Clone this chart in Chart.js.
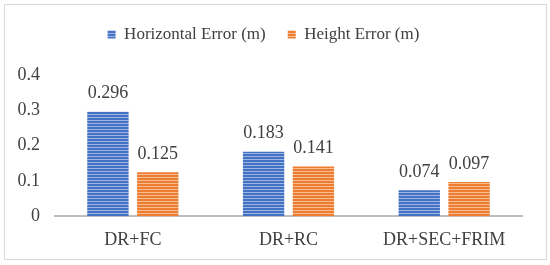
<!DOCTYPE html>
<html>
<head>
<meta charset="utf-8">
<script src="https://cdn.jsdelivr.net/npm/chart.js@4"></script>
<style>
    body { margin: 0; background: #fff; }
    #wrap { position: relative; width: 550px; height: 265px; }
    #frame { position: absolute; left: 4px; top: 4px; width: 541px; height: 254px; border: 1px solid #d9d9d9; }
    canvas { position: absolute; left: 0; top: 0; }
</style>
</head>
<body>
<div id="wrap">
    <div id="frame"></div>
    <canvas id="errChart" width="550" height="265"></canvas>
</div>
<script>
// Chart data
const methods = ['DR+FC', 'DR+RC', 'DR+SEC+FRIM'];
const horizontalErr = [0.296, 0.183, 0.074];
const heightErr = [0.125, 0.141, 0.097];
const yTicks = [0, 0.1, 0.2, 0.3, 0.4];

const serif = '"Liberation Serif", "Times New Roman", serif';
const textColor = '#404040';

// striped fill like the Excel pattern
function stripes(base, light) {
    const c = document.createElement('canvas');
    c.width = 4;
    c.height = 3;
    const g = c.getContext('2d');
    g.fillStyle = base;
    g.fillRect(0, 0, 4, 3);
    g.fillStyle = light;
    g.fillRect(0, 0, 4, 1);
    return g.createPattern(c, 'repeat');
}

const blueFill = stripes('#4472c4', '#9db4e0');
const orangeFill = stripes('#ed7d31', '#f6bc94');

// value labels above each bar
const barLabels = {
    id: 'barLabels',
    afterDatasetsDraw(chart) {
        const ctx = chart.ctx;
        ctx.save();
        ctx.font = '18px ' + serif;
        ctx.fillStyle = textColor;
        ctx.textAlign = 'center';
        ctx.textBaseline = 'bottom';
        chart.data.datasets.forEach((ds, i) => {
            chart.getDatasetMeta(i).data.forEach((bar, j) => {
                ctx.fillText(ds.data[j].toFixed(3), bar.x, bar.y - 9);
            });
        });
        ctx.restore();
    }
};

// extra room under the legend
const legendGap = {
    id: 'legendGap',
    afterInit(chart) {
        const fit = chart.legend.fit;
        chart.legend.fit = function () {
            fit.call(this);
            this.height += 22;
        };
    }
};

new Chart(document.getElementById('errChart').getContext('2d'), {
    type: 'bar',
    data: {
        labels: methods,
        datasets: [
            {
                label: 'Horizontal Error (m)',
                data: horizontalErr,
                backgroundColor: blueFill,
                borderWidth: 0
            },
            {
                label: 'Height Error (m)',
                data: heightErr,
                backgroundColor: orangeFill,
                borderWidth: 0
            }
        ]
    },
    options: {
        responsive: false,
        animation: false,
        categoryPercentage: 0.64,
        barPercentage: 0.83,
        layout: { padding: { left: 5, right: 28, top: 4, bottom: 9 } },
        plugins: {
            legend: {
                display: true,
                labels: {
                    boxWidth: 8,
                    boxHeight: 8,
                    padding: 22,
                    color: textColor,
                    font: { family: serif, size: 17 }
                }
            },
            tooltip: { enabled: false }
        },
        scales: {
            x: {
                grid: { display: false },
                border: { color: '#bfbfbf', width: 2 },
                ticks: { color: textColor, padding: 5, font: { family: serif, size: 18 } }
            },
            y: {
                min: 0,
                max: 0.4,
                afterFit: scale => { scale.width = 50; },
                afterBuildTicks: scale => { scale.ticks = yTicks.map(v => ({ value: v })); },
                grid: { display: false },
                border: { display: false },
                ticks: {
                    color: textColor,
                    padding: 7,
                    font: { family: serif, size: 18 },
                    callback: v => (v === 0 ? '0' : v.toFixed(1))
                }
            }
        }
    },
    plugins: [barLabels, legendGap]
});
</script>
</body>
</html>
